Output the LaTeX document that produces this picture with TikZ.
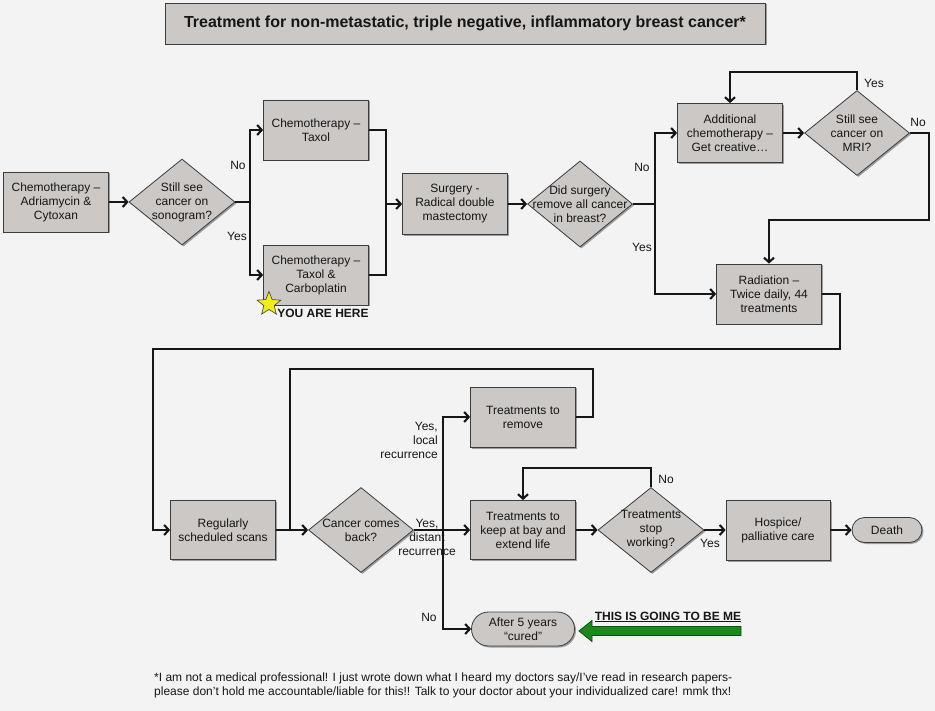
\documentclass[tikz,border=0pt]{standalone}
\usepackage{fontspec}
\setmainfont{Liberation Sans}
\usetikzlibrary{shapes.geometric,shapes.misc,arrows.meta,shadows}
\definecolor{bg}{HTML}{F4F3F3}
\definecolor{boxfill}{HTML}{CCC8C5}
\definecolor{edge}{HTML}{3C3C3C}
\definecolor{ink}{HTML}{161616}
\definecolor{arrowgreen}{HTML}{1B8A1B}
\definecolor{arrowgreendark}{HTML}{0E4F0E}
\definecolor{staryellow}{HTML}{F2EC1A}
\newcommand{\bodyfont}{\fontsize{12}{14}\selectfont}
\begin{document}
\begin{tikzpicture}[x=1pt,y=-1pt,
  shapebase/.style={draw=edge, line width=0.8pt, fill=boxfill, text=ink, font=\bodyfont,
    drop shadow={shadow xshift=1.5pt, shadow yshift=-1.5pt, fill=black, opacity=0.35}},
  box/.style={shapebase, rectangle, minimum width=105pt, minimum height=60pt, align=center, inner sep=2pt},
  dia/.style={shapebase, diamond, minimum width=106pt, minimum height=86pt, inner sep=0pt},
  dtext/.style={align=center, text=ink, font=\bodyfont, inner sep=0pt},
  pill/.style={shapebase, rounded rectangle, minimum width=105pt, minimum height=34pt, align=center, inner sep=1pt},
  lbl/.style={text=ink, font=\bodyfont, inner sep=0pt, align=center},
  conn/.style={draw=ink, line width=2.1pt},
  arr/.style={conn, -{Straight Barb[length=4.5pt, width=10pt]}},
]
\fill[bg] (0,0) rectangle (935,711);
\useasboundingbox (0,0) rectangle (935,711);

% title
\node[shapebase, rectangle, minimum width=600pt, minimum height=41pt, font=\bfseries\fontsize{16}{18}\selectfont] (title) at (465,23.5)
  {Treatment for non-metastatic, triple negative, inflammatory breast cancer*};

% nodes
\node[box] (A) at (56,202) {Chemotherapy –\\Adriamycin \&\\Cytoxan};
\node[dia] (D1) at (182,202) {};
\node[dtext] (D1t) at (D1) {Still see\\cancer on\\sonogram?};
\node[box] (B) at (316,130) {Chemotherapy –\\Taxol};
\node[box] (C) at (316,275) {Chemotherapy –\\Taxol \&\\Carboplatin};
\node[box, minimum height=61pt] (D) at (455,204) {Surgery -\\Radical double\\mastectomy};
\node[dia, minimum width=105pt] (D2) at (580,204) {};
\node[dtext] (D2t) at (D2) {Did surgery\\remove all cancer\\in breast?};
\node[box, minimum height=59pt] (E) at (730,133) {Additional\\chemotherapy –\\Get creative…};
\node[dia, minimum width=105pt, minimum height=85pt] (D3) at (857,133) {};
\node[dtext] (D3t) at (D3) {Still see\\cancer on\\MRI?};
\node[box] (F) at (769,294) {Radiation –\\Twice daily, 44\\treatments};
\node[box, minimum height=59pt] (G) at (223,530) {Regularly\\scheduled scans};
\node[dia, minimum width=105pt, minimum height=85pt] (D4) at (361,530) {};
\node[dtext] (D4t) at (D4) {Cancer comes\\back?};
\node[box] (H) at (523,417) {Treatments to\\remove};
\node[box, minimum height=59pt] (I) at (523,530) {Treatments to\\keep at bay and\\extend life};
\node[pill] (J) at (523,629) {After 5 years\\“cured”};
\node[dia, minimum height=85pt] (D5) at (651,530) {};
\node[dtext] (D5t) at (D5) {Treatments\\stop\\working?};
\node[box, minimum width=104pt] (K) at (778,530) {Hospice/\\palliative care};
\node[pill, minimum width=72pt, minimum height=25pt] (Death) at (887,530) {Death};

% star and marker
\node[star, star points=5, star point ratio=2.3, fill=staryellow, draw=edge, line width=0.6pt, minimum size=25pt, inner sep=0pt] (star) at (269,304) {};
\node[font=\bfseries\fontsize{12}{14}\selectfont, text=ink, inner sep=0pt] (here) at (323,313) {YOU ARE HERE};

% coordinates
\coordinate (b1) at (250,202);
\coordinate (j1) at (386,204);
\coordinate (b2) at (655,204);
\coordinate (l1) at (857,72);
\coordinate (c2) at (929,220);
\coordinate (c3) at (840,349);
\coordinate (c4) at (153,349);
\coordinate (c5) at (290,530);
\coordinate (c6) at (593,369);
\coordinate (b3) at (443,530);
\coordinate (c7) at (651,468);

% connectors
\draw[arr] (A.east) -- (D1.west);
\draw[conn] (D1.east) -- (b1);
\draw[arr] (b1) |- (B.west);
\draw[arr] (b1) |- (C.west);
\draw[conn] (B.east) -| (j1);
\draw[conn] (C.east) -| (j1);
\draw[arr] (j1) -- (D.west);
\draw[arr] (D.east) -- (D2.west);
\draw[conn] (D2.east) -- (b2);
\draw[arr] (b2) |- (E.west);
\draw[arr] (b2) |- (F.west);
\draw[arr] (E.east) -- (D3.west);
\draw[arr] (D3.north) -- (l1) -| (E.north);
\draw[arr] (D3.east) -| (c2) -| (F.north);
\draw[arr] (F.east) -| (c3) -- (c4) |- (G.west);
\draw[arr] (G.east) -- (D4.west);
\draw[conn] (H.east) -| (c6) -| (c5);
\draw[arr] (D4.east) -- (I.west);
\draw[arr] (b3) |- (H.west);
\draw[arr] (b3) |- (J.west);
\draw[arr] (I.east) -- (D5.west);
\draw[arr] (D5.north) -- (c7) -| (I.north);
\draw[arr] (D5.east) -- (K.west);
\draw[arr] (K.east) -- (Death.west);

% labels
\node[lbl] (lno1) at (238,165) {No};
\node[lbl] (lyes1) at (237,236) {Yes};
\node[lbl] (lno2) at (642,167) {No};
\node[lbl] (lyes2) at (642,247) {Yes};
\node[lbl] (lyes3) at (874,83) {Yes};
\node[lbl] (lno3) at (918,122) {No};
\node[lbl, anchor=east, align=right] (llocal) at (438,440) {Yes,\\local\\recurrence};
\node[lbl] (ldist) at (427,537) {Yes,\\distant\\recurrence};
\node[lbl] (lno4) at (429,617) {No};
\node[lbl] (lno5) at (666,479) {No};
\node[lbl] (lyes5) at (710,543) {Yes};

% green arrow
\filldraw[fill=arrowgreen, draw=arrowgreendark, line width=0.8pt]
  (741,626.5) -- (592,626.5) -- (592,620.5) -- (579,631) -- (592,641.5) -- (592,635.5) -- (741,635.5) -- cycle;
\node[font=\bfseries\fontsize{12}{14}\selectfont, text=ink, inner sep=0pt] (me) at (668,617) {\underline{THIS IS GOING TO BE ME}};

% footnote
\node[anchor=west, align=left, text=ink, font=\fontsize{12}{14}\selectfont, inner sep=0pt] (foot) at (154,685)
  {*I am not a medical professional! I just wrote down what I heard my doctors say/I’ve read in research papers-\\please don’t hold me accountable/liable for this!! Talk to your doctor about your individualized care! mmk thx!};
\end{tikzpicture}
\end{document}
